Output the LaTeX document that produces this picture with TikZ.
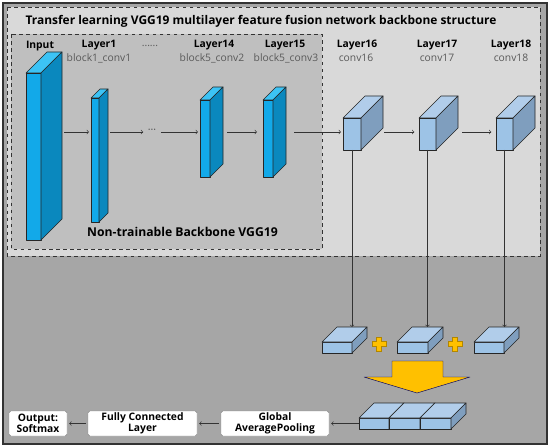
\documentclass[tikz,border=0pt]{standalone}
\usepackage{fontspec}
\setmainfont{Open Sans}
\usetikzlibrary{calc,positioning}
\definecolor{cyanF}{HTML}{12A9E9}
\definecolor{cyanT}{HTML}{3CC3F5}
\definecolor{cyanS}{HTML}{0A88BE}
\definecolor{paleF}{HTML}{9DC3E6}
\definecolor{paleT}{HTML}{B1CDEA}
\definecolor{paleS}{HTML}{7F9EBE}
\definecolor{bgouter}{HTML}{A6A6A6}
\definecolor{bgtop}{HTML}{D9D9D9}
\definecolor{bginner}{HTML}{BFBFBF}
\definecolor{gold}{HTML}{FFC000}
\definecolor{labgray}{HTML}{595959}

% front face as a node, top and side faces drawn from its anchors
\newcommand{\cube}[7]{%
  \node[face, fill=#7F, minimum width=#4*0.3mm, minimum height=#5*0.3mm] (#1) at (#2,#3) {};
  \draw[face, fill=#7T] (#1.north west) -- ++(#6,-#6) -- ++(#4,0) -- (#1.north east) -- cycle;
  \draw[face, fill=#7S] (#1.north east) -- ++(#6,-#6) -- ++(0,#5) -- (#1.south east) -- cycle;
  \coordinate (#1-b) at ($(#1.east)+(#6,0)$);
  \coordinate (#1-t) at ($(#1.north)+(#6,-#6)$);
}

\begin{document}
\begin{tikzpicture}
    [x=0.3mm, y=-0.3mm,
      face/.style={
        draw=black!85,
        line width=0.5pt,
        line join=round,
        inner sep=0pt,
        outer sep=0pt
      },
      lab/.style={
        font=\bfseries\fontsize{8.8}{10}\selectfont,
        text height=1.5ex,
        text depth=.25ex,
        inner sep=0pt
      },
      sub/.style={
        font=\fontsize{8.8}{10}\selectfont,
        text=labgray,
        text height=1.5ex,
        text depth=.25ex,
        inner sep=0pt
      },
      box/.style={
        rectangle,
        draw=black!45,
        fill=white,
        rounded corners=1.5pt,
        font=\bfseries\fontsize{8.8}{9.6}\selectfont,
        align=center,
        inner sep=0pt,
        minimum height=25*0.3mm
      },
      conn/.style={
        draw=black!80,
        line width=0.5pt,
        ->,
        shorten <=0.6mm,
        shorten >=0.6mm
      },
      region/.style={
        draw=black!80,
        line width=0.7pt,
        dashed
      },
      plus/.style={
        fill=gold,
        draw=gold!70!black,
        line width=0.3pt
      }
    ]
    \useasboundingbox (0,0) rectangle (550,447);
    \draw[fill=bgouter, draw=black!80, line width=1.2pt] (3,3) rectangle (547,444);
    \draw[region, fill=bgtop] (7,7) rectangle (540,256);
    \draw[region, fill=bginner] (11,34) rectangle (322,249);

    \node[font=\bfseries\fontsize{10.2}{11}\selectfont] (ttl) at (261,21)
      {Transfer learning VGG19 multilayer feature fusion network backbone structure};

    \node[lab] (t-in) at (40,45) {Input};
    \node[lab] (t-l1) at (99,44) {Layer1};
    \node[sub] (s-l1) at (99,58) {block1\_conv1};
    \node[sub] (t-dots) at (150,43) {......};
    \node[lab] (t-l14) at (214,44) {Layer14};
    \node[sub] (s-l14) at (212,58) {block5\_conv2};
    \node[lab] (t-l15) at (285,44) {Layer15};
    \node[sub] (s-l15) at (286,58) {block5\_conv3};
    \node[lab] (t-l16) at (357,44) {Layer16};
    \node[sub] (s-l16) at (356,58) {conv16};
    \node[lab] (t-l17) at (437,44) {Layer17};
    \node[sub] (s-l17) at (437,58) {conv17};
    \node[lab] (t-l18) at (511,44) {Layer18};
    \node[sub] (s-l18) at (511,58) {conv18};

    \cube{in}{33.5}{156.5}{15}{167}{21}{cyan}
    \cube{l1}{95}{160}{8}{124}{9}{cyan}
    \cube{l14}{205}{138.5}{10}{77}{13}{cyan}
    \cube{l15}{268}{138.5}{10}{77}{13}{cyan}
    \cube{l16}{352}{134}{18}{32}{22}{pale}
    \cube{l17}{427.5}{134}{17}{32}{22}{pale}
    \cube{l18}{504.5}{134}{17}{32}{22}{pale}

    \node[font=\bfseries\fontsize{10.4}{12}\selectfont] (nt) at (182.5,232) {Non-trainable Backbone VGG19};

    \coordinate (row) at (0,132);
    \node[font=\fontsize{9}{10}\selectfont, text=black!70, inner sep=2pt] (mid) at (152,131) {···};
    \draw[conn] (in-b |- row) -- (l1.west |- row);
    \draw[conn] (l1-b |- row) -- (mid.west |- row);
    \draw[conn] (mid.east |- row) -- (l14.west |- row);
    \draw[conn, shorten <=1.2mm, shorten >=1.8mm] (l14-b |- row) -- (l15.west |- row);
    \draw[conn, shorten <=2.4mm] (l15-b |- row) -- (l16.west |- row);
    \draw[conn, shorten <=0.3mm, shorten >=1.4mm] (l16-b |- row) -- (l17.west |- row);
    \draw[conn, shorten <=1.2mm, shorten >=1.4mm] (l17-b |- row) -- (l18.west |- row);

    \cube{f1}{337}{347.5}{30}{11}{15}{pale}
    \cube{f2}{412.5}{347.5}{31}{11}{15}{pale}
    \cube{f3}{489}{347.5}{30}{11}{15}{pale}

    \draw[conn, shorten <=0pt, shorten >=0pt] (l16.south) -- (l16.south |- f1-t);
    \draw[conn, shorten <=0pt, shorten >=0pt] (l17.south) -- (l17.south |- f2-t);
    \draw[conn, shorten <=0pt, shorten >=0pt] (l18.south) -- (l18.south |- f3-t);

    \foreach \px in {379,455}
      \draw[plus] (\px,344) ++(-2.5,-7) -- ++(5,0) -- ++(0,4.5) -- ++(4.5,0) -- ++(0,5)
        -- ++(-4.5,0) -- ++(0,4.5) -- ++(-5,0) -- ++(0,-4.5) -- ++(-4.5,0) -- ++(0,-5)
        -- ++(4.5,0) -- cycle;

    \draw[fill=gold, draw=blue!40!black, line width=0.4pt, line join=round]
      (392,361) -- (443,361) -- (443,377) -- (470,377) -- (417,393) -- (364,377) -- (392,377) -- cycle;

    \cube{c1}{374}{423.5}{30}{11}{15}{pale}
    \cube{c2}{404.5}{423.5}{31}{11}{15}{pale}
    \cube{c3}{435.5}{423.5}{31}{11}{15}{pale}

    \node[box, minimum width=108*0.3mm] (gap) at (275,423.5) {Global\\AveragePooling};
    \node[box, minimum width=109*0.3mm] (fc) at (142.5,423.5) {Fully Connected\\Layer};
    \node[box, minimum width=58*0.3mm] (out) at (38,423.5) {Output:\\Softmax};

    \draw[conn, shorten <=0pt] (c1.west) -- (gap.east);
    \draw[conn] (gap.west) -- (fc.east);
    \draw[conn] (fc.west) -- (out.east);
\end{tikzpicture}
\end{document}
